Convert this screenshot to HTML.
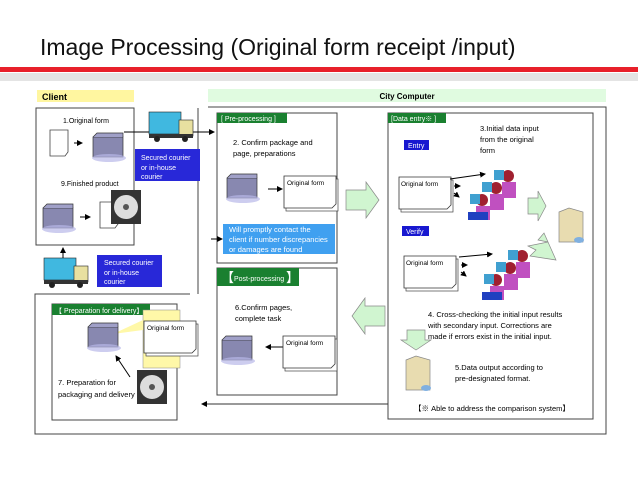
<!DOCTYPE html>
<html><head><meta charset="utf-8"><style>
body{margin:0;background:#fff}
svg{display:block;font-family:"Liberation Sans","Noto Sans CJK JP",sans-serif}
</style></head><body>
<svg width="638" height="478" viewBox="0 0 638 478" xmlns="http://www.w3.org/2000/svg">
<defs>
<marker id="a" markerWidth="6" markerHeight="6" refX="5" refY="3" orient="auto"><path d="M0,0L6,3L0,6z" fill="#000"/></marker>
<g id="box"><rect x="0" y="4" width="30" height="20" fill="#8888b0" stroke="#333" stroke-width="0.7"/><path d="M0,4 L4,0 L30,0 L30,4" fill="#a0a0c8" stroke="#333" stroke-width="0.7"/><ellipse cx="16" cy="25" rx="17" ry="4" fill="#b8b8e8" opacity="0.7"/></g>
<g id="doc"><path d="M0,0H18V22L15,26H0Z" fill="#fff" stroke="#444" stroke-width="0.8"/></g>
<g id="form"><rect x="2" y="3" width="52" height="32" fill="#fff" stroke="#444" stroke-width="0.7"/><path d="M0,0H52V28L48,32H0Z" fill="#fff" stroke="#333" stroke-width="0.8"/></g>
<g id="truck"><rect x="0" y="0" width="32" height="22" fill="#40b8e0" stroke="#222" stroke-width="0.6"/><rect x="30" y="8" width="14" height="16" fill="#e8e0a0" stroke="#222" stroke-width="0.6"/><rect x="0" y="22" width="44" height="4" fill="#333"/><circle cx="8" cy="27" r="3" fill="#222"/><circle cx="36" cy="27" r="3" fill="#222"/></g>
<g id="ppl"><g fill="#c050c0"><circle cx="40" cy="8" r="6" fill="#a02030"/><rect x="34" y="14" width="14" height="16"/><circle cx="28" cy="20" r="6" fill="#a02030"/><rect x="22" y="26" width="14" height="16"/><circle cx="14" cy="32" r="6" fill="#a02030"/><rect x="8" y="38" width="14" height="14"/></g><rect x="26" y="2" width="10" height="10" fill="#40a0d0"/><rect x="14" y="14" width="10" height="10" fill="#40a0d0"/><rect x="2" y="26" width="10" height="10" fill="#40a0d0"/><rect x="0" y="44" width="20" height="8" fill="#2040c0"/></g>
<g id="srv"><path d="M4,4 L14,0 L28,4 L28,34 L4,34 Z" fill="#e8dcb0" stroke="#888" stroke-width="0.7"/><ellipse cx="24" cy="32" rx="5" ry="3" fill="#80b0e0"/></g>
<g id="cd"><rect x="0" y="0" width="30" height="34" fill="#333"/><circle cx="15" cy="17" r="12" fill="#ddd"/><circle cx="15" cy="17" r="3" fill="#555"/></g>
</defs>
<rect x="0" y="0" width="638" height="478" fill="#fff"/>
<text x="40" y="55" font-size="23" fill="#111">Image Processing (Original form receipt /input)</text>
<rect x="0" y="73" width="638" height="8" fill="#ddd" opacity="0.8"/>
<rect x="0" y="67" width="638" height="5" fill="#e8202a"/>

<rect x="37" y="90" width="97" height="12" fill="#fff6a0"/>
<text x="42" y="100" font-size="9" font-weight="bold">Client</text>
<rect x="208" y="89" width="398" height="13" fill="#e0fbe0"/>
<text x="407" y="99" font-size="8" font-weight="bold" text-anchor="middle">City Computer</text>

<g fill="none" stroke="#444" stroke-width="1">
<rect x="36" y="108" width="98" height="137"/>
<line x1="198" y1="108" x2="198" y2="294"/>
<path d="M208,107 H606 V434 H35 V294 H190"/>
<rect x="217" y="113" width="120" height="150"/>
<rect x="217" y="268" width="120" height="127"/>
<rect x="388" y="113" width="205" height="306"/>
<rect x="52" y="304" width="125" height="116"/>
</g>

<!-- client -->
<text x="63" y="123" font-size="7">1.Original form</text>
<use href="#doc" x="50" y="130"/>
<line x1="74" y1="143" x2="82" y2="143" stroke="#000" marker-end="url(#a)"/>
<use href="#box" x="93" y="133"/>
<text x="61" y="186" font-size="7">9.Finished product</text>
<use href="#box" x="43" y="204"/>
<line x1="80" y1="217" x2="90" y2="217" stroke="#000" marker-end="url(#a)"/>
<use href="#doc" x="100" y="202"/>
<use href="#cd" x="111" y="190" transform="scale(1)"/>
<line x1="124" y1="132" x2="214" y2="132" stroke="#000" marker-end="url(#a)"/>
<use href="#truck" x="149" y="112"/>
<rect x="135" y="149" width="65" height="32" fill="#2828d8"/>
<text font-size="7" fill="#fff"><tspan x="141" y="160">Secured courier</tspan><tspan x="141" y="170">or in-house</tspan><tspan x="141" y="179">courier</tspan></text>
<use href="#truck" x="44" y="258"/>
<line x1="63" y1="258" x2="63" y2="248" stroke="#000" marker-end="url(#a)"/>
<rect x="97" y="255" width="65" height="32" fill="#2828d8"/>
<text font-size="7" fill="#fff"><tspan x="104" y="265">Secured courier</tspan><tspan x="104" y="275">or in-house</tspan><tspan x="104" y="284">courier</tspan></text>

<!-- pre-processing -->
<rect x="217" y="113" width="70" height="10" fill="#1a8030"/>
<text x="221" y="121" font-size="7" fill="#fff">[ Pre-processing ]</text>
<text font-size="7.5"><tspan x="233" y="145">2. Confirm package and</tspan><tspan x="233" y="156">page, preparations</tspan></text>
<use href="#box" x="227" y="174"/>
<line x1="268" y1="189" x2="282" y2="189" stroke="#000" marker-end="url(#a)"/>
<use href="#form" x="284" y="176"/>
<text x="287" y="185" font-size="6.5">Original form</text>
<rect x="223" y="224" width="112" height="30" fill="#40a0f0"/>
<text font-size="7.5" fill="#fff"><tspan x="229" y="232">Will promptly contact the</tspan><tspan x="229" y="242">client if number discrepancies</tspan><tspan x="229" y="252">or damages are found</tspan></text>
<line x1="211" y1="239" x2="222" y2="239" stroke="#000" marker-end="url(#a)"/>

<!-- post -->
<rect x="217" y="268" width="82" height="18" fill="#1a8030"/>
<text x="221" y="282" font-size="13" fill="#fff">【</text><text x="234" y="281" font-size="7" fill="#fff">Post-processing</text><text x="286" y="282" font-size="13" fill="#fff">】</text>
<text font-size="7.5"><tspan x="235" y="310">6.Confirm pages,</tspan><tspan x="235" y="321">complete task</tspan></text>
<use href="#box" x="222" y="336"/>
<line x1="283" y1="347" x2="266" y2="347" stroke="#000" marker-end="url(#a)"/>
<use href="#form" x="283" y="336"/>
<text x="286" y="345" font-size="6.5">Original form</text>

<!-- big arrows -->
<path d="M346,190 H366 V182 L379,200 L366,218 V210 H346Z" fill="#d0f5d0" stroke="#888" stroke-width="0.7"/>
<path d="M385,306 H365 V298 L352,316 L365,334 V326 H385Z" fill="#d0f5d0" stroke="#888" stroke-width="0.7"/>
<path d="M528,198 H538 V191 L546,206 L538,221 V214 H528Z" fill="#d0f5d0" stroke="#888" stroke-width="0.7"/>
<path d="M548,242 L538,240 L544,233 L556,260 L530,256 L536,250 L528,246Z" fill="#d0f5d0" stroke="#888" stroke-width="0.7"/>
<path d="M407,330 H425 V340 H431 L416,350 L401,340 H407Z" fill="#d0f5d0" stroke="#888" stroke-width="0.7"/>

<!-- data entry -->
<rect x="388" y="113" width="58" height="10" fill="#1a8030"/>
<text x="391" y="121" font-size="7" fill="#fff">[Data entry※ ]</text>
<text font-size="7.5"><tspan x="480" y="131">3.Initial data input</tspan><tspan x="480" y="142">from the original</tspan><tspan x="480" y="153">form</tspan></text>
<rect x="404" y="140" width="25" height="10" fill="#1818d0"/><text x="408" y="148" font-size="7" fill="#fff">Entry</text>
<use href="#form" x="399" y="177"/><text x="401" y="186" font-size="6.5">Original form</text>
<line x1="450" y1="179" x2="485" y2="174" stroke="#000" marker-end="url(#a)"/>
<line x1="454" y1="186" x2="460" y2="186" stroke="#000" marker-end="url(#a)"/>
<line x1="454" y1="193" x2="459" y2="197" stroke="#000" marker-end="url(#a)"/>
<use href="#ppl" x="468" y="168"/>
<use href="#srv" x="555" y="208"/>
<rect x="402" y="226" width="27" height="10" fill="#1818d0"/><text x="406" y="234" font-size="7" fill="#fff">Verify</text>
<use href="#form" x="404" y="256"/><text x="406" y="265" font-size="6.5">Original form</text>
<line x1="459" y1="257" x2="492" y2="254" stroke="#000" marker-end="url(#a)"/>
<line x1="461" y1="265" x2="467" y2="265" stroke="#000" marker-end="url(#a)"/>
<line x1="461" y1="272" x2="466" y2="276" stroke="#000" marker-end="url(#a)"/>
<use href="#ppl" x="482" y="248"/>
<text font-size="7.5"><tspan x="428" y="317">4.  Cross-checking the initial input results</tspan><tspan x="428" y="328">with secondary input. Corrections are</tspan><tspan x="428" y="339">made if errors exist in the initial input.</tspan></text>
<use href="#srv" x="402" y="356"/>
<text font-size="7.5"><tspan x="455" y="370">5.Data output according to</tspan><tspan x="455" y="381">pre-designated format.</tspan></text>
<text x="414" y="411" font-size="7.5">【※ Able to address the comparison system】</text>
<line x1="388" y1="404" x2="202" y2="404" stroke="#333" marker-end="url(#a)"/>

<!-- preparation -->
<rect x="52" y="304" width="98" height="11" fill="#1a8030"/>
<text x="55" y="313" font-size="7" fill="#fff">【 Preparation for delivery】</text>
<rect x="143" y="310" width="37" height="58" fill="#fff8a8" stroke="#888" stroke-width="0.5"/>
<path d="M113,334 L143,320 L143,330Z" fill="#fff8a8"/>
<use href="#box" x="88" y="323"/>
<use href="#form" x="144" y="321"/><text x="147" y="330" font-size="6.5">Original form</text>
<line x1="130" y1="377" x2="116" y2="356" stroke="#000" marker-end="url(#a)"/>
<use href="#cd" x="137" y="370"/>
<text font-size="7.5"><tspan x="58" y="385">7. Preparation for</tspan><tspan x="58" y="397">packaging and delivery</tspan></text>
</svg>
</body></html>
